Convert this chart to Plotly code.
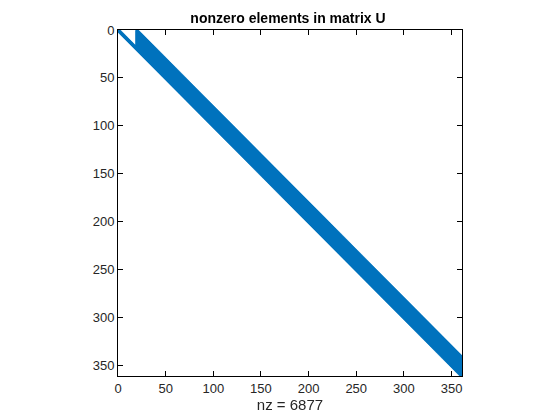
import plotly.graph_objects as go

# Sparsity pattern of U
n_size = 360
band_width = 19          # nonzeros from column i to i+band_width
fill_start_col = 19      # first rows: diagonal plus columns from here on
nz_label = "nz = 6877"
x_ticks = [0, 50, 100, 150, 200, 250, 300, 350]
y_ticks = [0, 50, 100, 150, 200, 250, 300, 350]

rows, cols = [], []
for i in range(n_size):
    if i < fill_start_col:
        cs = [i] + list(range(fill_start_col, min(i + band_width, n_size - 1) + 1))
    else:
        cs = list(range(i, min(i + band_width, n_size - 1) + 1))
    for c in cs:
        rows.append(i + 1)
        cols.append(c + 1)

fig = go.Figure(go.Scattergl(
    x=cols, y=rows, mode="markers",
    marker=dict(color="#0072BD", size=4, line=dict(width=0)),
    hoverinfo="skip",
))

axis_common = dict(
    showgrid=False, zeroline=False, showline=True, linecolor="black", linewidth=1,
    mirror="ticks", ticks="inside", ticklen=5, tickcolor="black", automargin=False,
    tickfont=dict(family="Liberation Sans, Arial", size=13, color="#262626"),
)
fig.update_xaxes(range=[0, n_size + 1], tickvals=x_ticks, **axis_common,
                 title=dict(text=nz_label, standoff=4,
                            font=dict(family="Liberation Sans, Arial", size=15, color="#262626")))
fig.update_yaxes(range=[n_size + 1, 0], tickvals=y_ticks, **axis_common)

fig.update_layout(
    width=560, height=420,
    margin=dict(l=110, r=106, t=22, b=52),
    plot_bgcolor="white", paper_bgcolor="white",
    showlegend=False,
    title=dict(text="<b>nonzero elements in matrix U</b>", x=0.5, xanchor="center",
               y=0.975, yanchor="middle",
               font=dict(family="Liberation Sans, Arial", size=14, color="black")),
)

fig.write_html("out.html")
